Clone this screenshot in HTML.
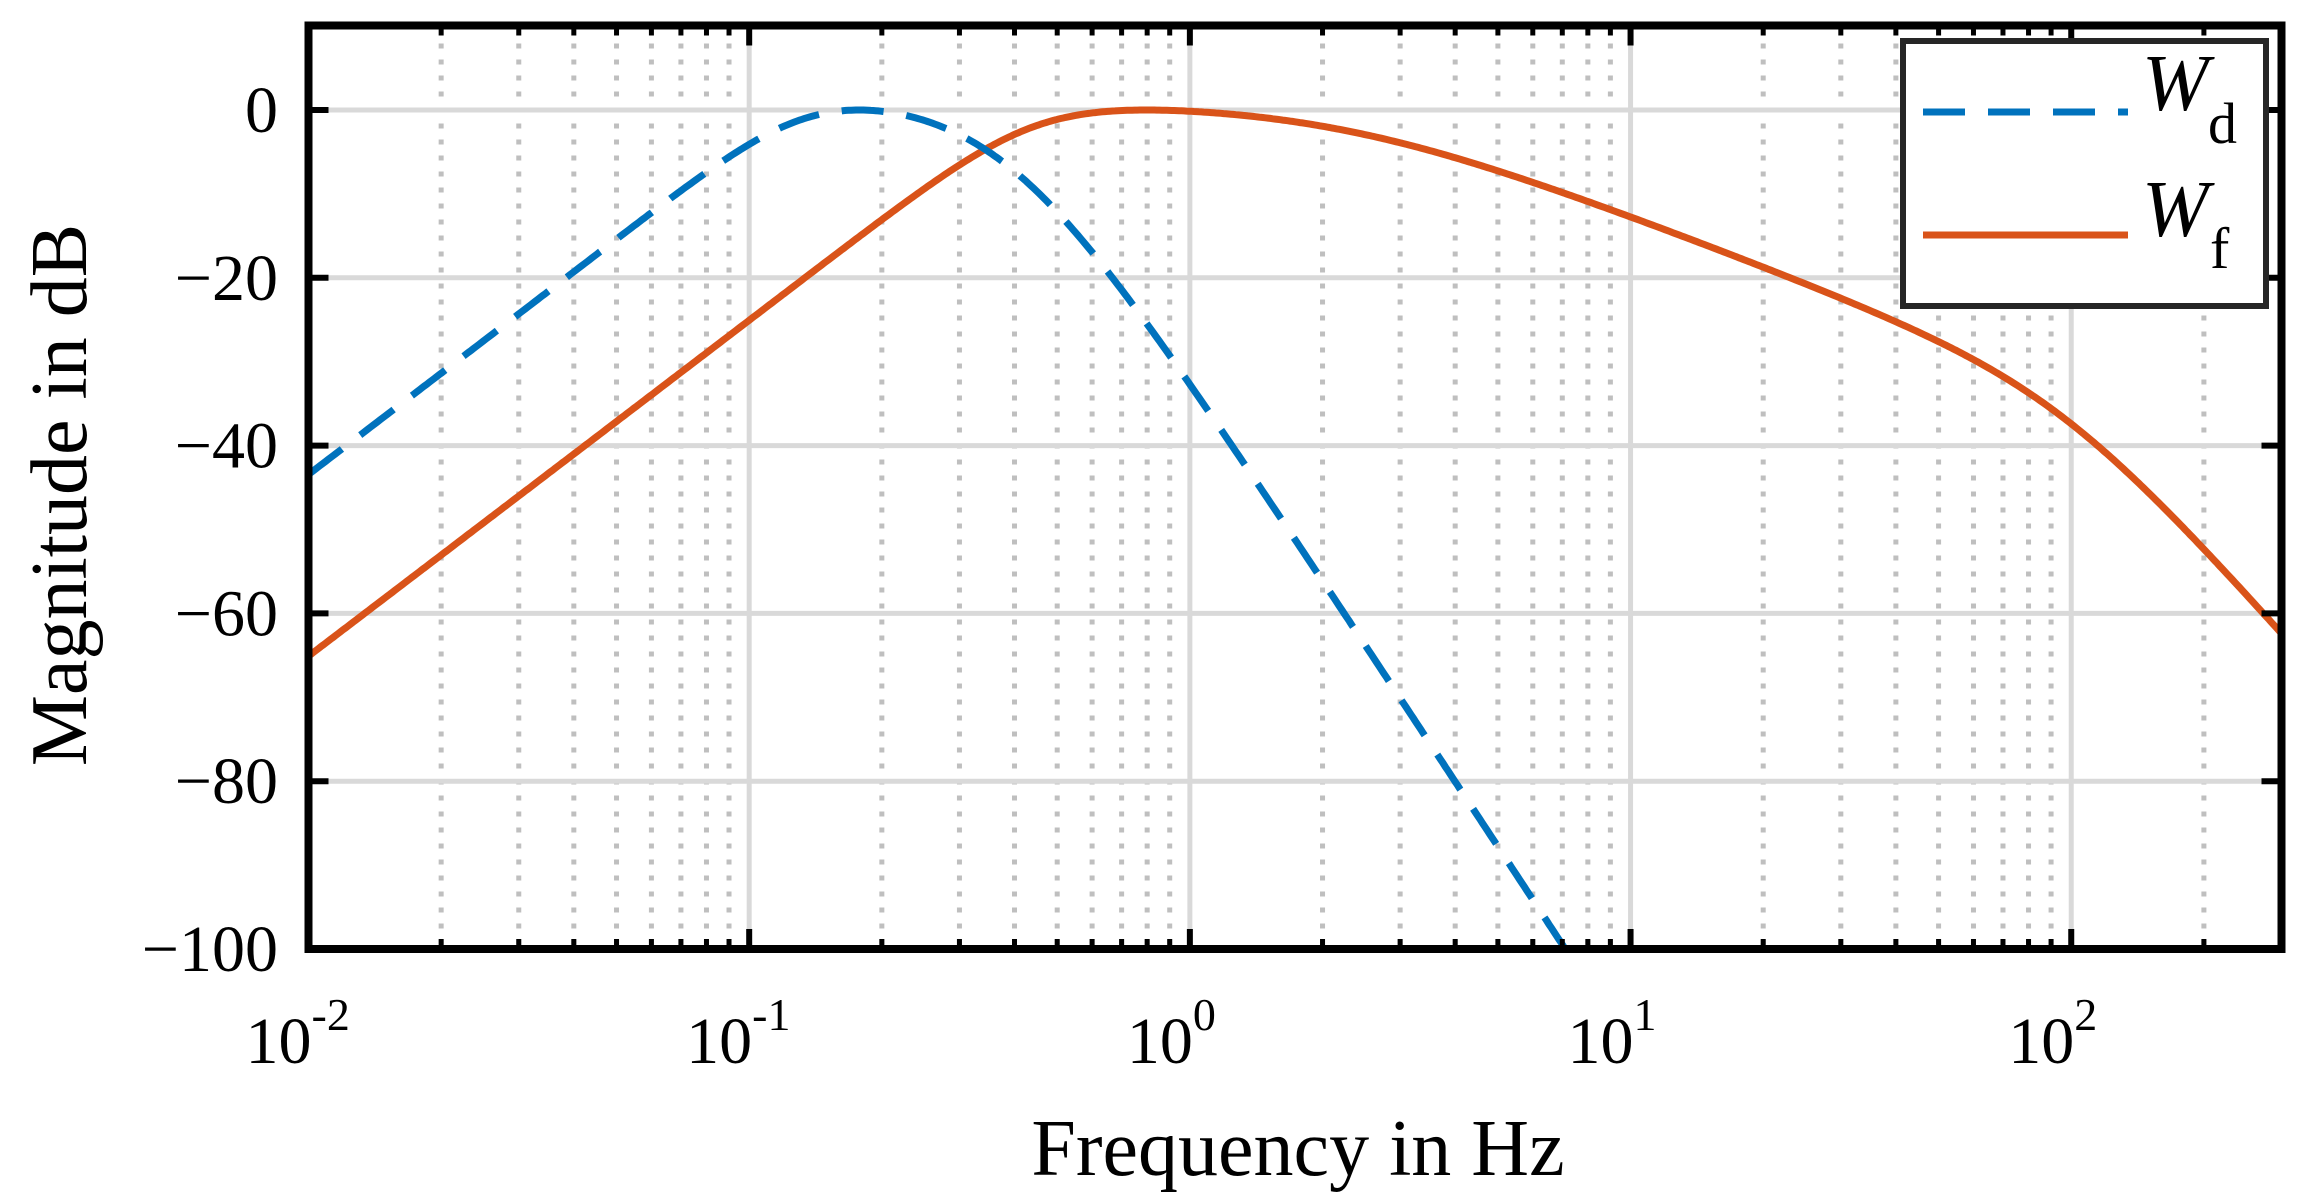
<!DOCTYPE html>
<html><head><meta charset="utf-8">
<style>
html,body{margin:0;padding:0;background:#fff;overflow:hidden;width:2317px;height:1204px;}
svg{display:block;}
text{font-family:"Liberation Serif",serif;fill:#000;}
</style></head>
<body>
<svg id="s" width="2317" height="1204" viewBox="0 0 2317 1204" xmlns="http://www.w3.org/2000/svg">
<defs><clipPath id="c"><rect x="308.5" y="25.5" width="1973" height="923.5"/></clipPath></defs>
<g id="grid"></g>
<g id="curves" clip-path="url(#c)"></g>
<g id="ticks"></g>
<rect x="308.5" y="25.5" width="1973" height="923.5" fill="none" stroke="#000" stroke-width="8"/>
<g id="labels" font-size="66"></g>
<text x="1298" y="1175" font-size="80" text-anchor="middle">Frequency in Hz</text>
<text transform="translate(86,495) rotate(-90)" font-size="80" text-anchor="middle">Magnitude in dB</text>
<rect x="1903" y="41" width="363" height="265" fill="#fff" stroke="#262626" stroke-width="6"/>
<line x1="1923" y1="112" x2="2128" y2="112" stroke="#0072bd" stroke-width="7" stroke-dasharray="42 23"/>
<line x1="1923" y1="235" x2="2128" y2="235" stroke="#d95319" stroke-width="7"/>
<text x="2142" y="110" font-size="80" font-style="italic">W</text>
<text x="2208" y="143" font-size="58">d</text>
<text x="2142" y="236" font-size="80" font-style="italic">W</text>
<text x="2210" y="268" font-size="58">f</text>
</svg>
<script>
var NS="http://www.w3.org/2000/svg";
var L=308.5,R=2281.5,T=25.5,B=949;
var D=(R-L)/Math.log10(30000);
function X(f){return L+(Math.log10(f)+2)*D;}
function Y(db){return 110-db*(949-110)/100;}
function el(p,n,a){var e=document.createElementNS(NS,n);for(var k in a)e.setAttribute(k,a[k]);p.appendChild(e);return e;}
var g=document.getElementById('grid'),tk=document.getElementById('ticks'),lb=document.getElementById('labels');
for(var d=-2;d<=2;d++){for(var m=2;m<=9;m++){var f=m*Math.pow(10,d);if(f>300)break;var x=X(f);
el(g,'line',{x1:x,y1:T+18,x2:x,y2:B-4,stroke:'#bfbfbf','stroke-width':5,'stroke-dasharray':'5 11'});
el(tk,'line',{x1:x,y1:B,x2:x,y2:B-10,stroke:'#000','stroke-width':5});
el(tk,'line',{x1:x,y1:T,x2:x,y2:T+10,stroke:'#000','stroke-width':5});}}
for(var d=-1;d<=2;d++){var x=X(Math.pow(10,d));
el(g,'line',{x1:x,y1:T,x2:x,y2:B,stroke:'#d9d9d9','stroke-width':5});
el(tk,'line',{x1:x,y1:B,x2:x,y2:B-20,stroke:'#000','stroke-width':6});
el(tk,'line',{x1:x,y1:T,x2:x,y2:T+20,stroke:'#000','stroke-width':6});}
for(var d=-2;d<=2;d++){var x=X(Math.pow(10,d));
var t=el(lb,'text',{x:x-63,y:1063,'text-anchor':'start'});t.textContent='10';
var s=el(lb,'text',{x:x+3,y:1030,'font-size':46,'text-anchor':'start'});s.textContent=(d<0?'-':'')+Math.abs(d);}
for(var v=0;v>=-100;v-=20){var y=Y(v);
if(v>-100)el(g,'line',{x1:L,y1:y,x2:R,y2:y,stroke:'#d9d9d9','stroke-width':5});
el(tk,'line',{x1:L,y1:y,x2:L+20,y2:y,stroke:'#000','stroke-width':6});
el(tk,'line',{x1:R,y1:y,x2:R-20,y2:y,stroke:'#000','stroke-width':6});
var t=el(lb,'text',{x:278,y:y+22,'text-anchor':'end'});t.textContent=(v<0?'\u2212':'')+Math.abs(v);}
function hp2(f,fc,Q){var x=f/fc;return 20*Math.log10(x*x/Math.sqrt(Math.pow(1-x*x,2)+Math.pow(x/Q,2)));}
function lp2(f,fc,Q){var x=f/fc;return -10*Math.log10(Math.pow(1-x*x,2)+Math.pow(x/Q,2));}
function lp1(f,fc){var x=f/fc;return -10*Math.log10(1+x*x);}
function wd(f){return hp2(f,0.135,0.8)+lp2(f,0.38,0.62)+lp2(f,0.38,0.62);}
function wf(f){return hp2(f,0.44,0.75)+lp1(f,2.2)+lp2(f,95,0.6);}
function path(fn,stroke,dash){var pts=[],mx=-1e9,N=800;
for(var i=0;i<=N;i++){var lf=-2+i*Math.log10(30000)/N;var v=fn(Math.pow(10,lf));pts.push([lf,v]);if(v>mx)mx=v;}
var d='';pts.forEach(function(p,i){d+=(i?'L':'M')+X(Math.pow(10,p[0])).toFixed(1)+','+Y(p[1]-mx).toFixed(1);});
var a={d:d,fill:'none',stroke:stroke,'stroke-width':7};if(dash)a['stroke-dasharray']=dash;
el(document.getElementById('curves'),'path',a);}
path(wf,'#d95319');
path(wd,'#0072bd','42 23');
</script>
</body></html>
